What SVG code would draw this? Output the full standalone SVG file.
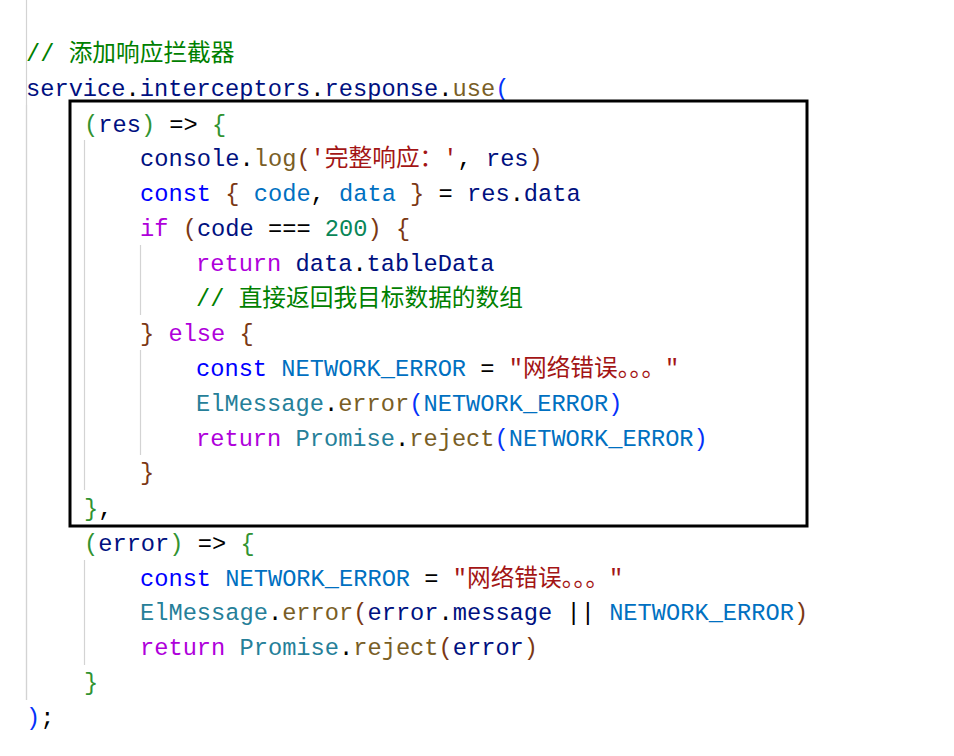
<svg xmlns="http://www.w3.org/2000/svg" width="954" height="756" viewBox="0 0 954 756">
<style>
text{font-family:"Liberation Mono","Noto Sans CJK SC",monospace;font-size:23.7px;white-space:pre}
.c{fill:#008000}.k{fill:#0000ff}.p{fill:#af00db}.v{fill:#001080}.f{fill:#795e26}.s{fill:#a31515}.n{fill:#098658}.u{fill:#0070c1}.t{fill:#267f99}.o{fill:#000}.b1{fill:#0431fa}.b2{fill:#319331}.b3{fill:#7b3814}
.g{stroke:#d3d3d3;stroke-width:1.2}
</style>
<rect width="954" height="756" fill="#fff"/>
<g id="guides">
<line class="g" x1="26.5" y1="0" x2="26.5" y2="700"/>
<line class="g" x1="26.5" y1="105" x2="26.5" y2="700"/>
<line class="g" x1="84.5" y1="140" x2="84.5" y2="490"/>
<line class="g" x1="84.5" y1="560" x2="84.5" y2="665"/>
<line class="g" x1="140.5" y1="245" x2="140.5" y2="315"/>
<line class="g" x1="140.5" y1="350" x2="140.5" y2="455"/>
</g>
<g id="code" xml:space="preserve">
<text x="26" y="61"><tspan class="c">// 添加响应拦截器</tspan></text>
<text x="26" y="96"><tspan class="v">service</tspan><tspan class="o">.</tspan><tspan class="v">interceptors</tspan><tspan class="o">.</tspan><tspan class="v">response</tspan><tspan class="o">.</tspan><tspan class="f">use</tspan><tspan class="b1">(</tspan></text>
<text x="84" y="132"><tspan class="b2">(</tspan><tspan class="v">res</tspan><tspan class="b2">)</tspan><tspan class="o"> =&gt; </tspan><tspan class="b2">{</tspan></text>
<text x="140" y="166"><tspan class="v">console</tspan><tspan class="o">.</tspan><tspan class="f">log</tspan><tspan class="b3">(</tspan><tspan class="s">'完整响应：'</tspan><tspan class="o">, </tspan><tspan class="v">res</tspan><tspan class="b3">)</tspan></text>
<text x="140" y="201"><tspan class="k">const</tspan><tspan class="o"> </tspan><tspan class="b3">{</tspan><tspan class="o"> </tspan><tspan class="u">code</tspan><tspan class="o">, </tspan><tspan class="u">data</tspan><tspan class="o"> </tspan><tspan class="b3">}</tspan><tspan class="o"> = </tspan><tspan class="v">res</tspan><tspan class="o">.</tspan><tspan class="v">data</tspan></text>
<text x="140" y="236"><tspan class="p">if</tspan><tspan class="o"> </tspan><tspan class="b3">(</tspan><tspan class="v">code</tspan><tspan class="o"> === </tspan><tspan class="n">200</tspan><tspan class="b3">)</tspan><tspan class="o"> </tspan><tspan class="b3">{</tspan></text>
<text x="196" y="271"><tspan class="p">return</tspan><tspan class="o"> </tspan><tspan class="v">data</tspan><tspan class="o">.</tspan><tspan class="v">tableData</tspan></text>
<text x="196" y="306"><tspan class="c">// 直接返回我目标数据的数组</tspan></text>
<text x="140" y="341"><tspan class="b3">}</tspan><tspan class="o"> </tspan><tspan class="p">else</tspan><tspan class="o"> </tspan><tspan class="b3">{</tspan></text>
<text x="196" y="376"><tspan class="k">const</tspan><tspan class="o"> </tspan><tspan class="u">NETWORK_ERROR</tspan><tspan class="o"> = </tspan><tspan class="s">"网络错误。。。"</tspan></text>
<text x="196" y="411"><tspan class="t">ElMessage</tspan><tspan class="o">.</tspan><tspan class="f">error</tspan><tspan class="b1">(</tspan><tspan class="u">NETWORK_ERROR</tspan><tspan class="b1">)</tspan></text>
<text x="196" y="446"><tspan class="p">return</tspan><tspan class="o"> </tspan><tspan class="t">Promise</tspan><tspan class="o">.</tspan><tspan class="f">reject</tspan><tspan class="b1">(</tspan><tspan class="u">NETWORK_ERROR</tspan><tspan class="b1">)</tspan></text>
<text x="140" y="480"><tspan class="b3">}</tspan></text>
<text x="84" y="516"><tspan class="b2">}</tspan><tspan class="o">,</tspan></text>
<text x="84" y="551"><tspan class="b2">(</tspan><tspan class="v">error</tspan><tspan class="b2">)</tspan><tspan class="o"> =&gt; </tspan><tspan class="b2">{</tspan></text>
<text x="140" y="586"><tspan class="k">const</tspan><tspan class="o"> </tspan><tspan class="u">NETWORK_ERROR</tspan><tspan class="o"> = </tspan><tspan class="s">"网络错误。。。"</tspan></text>
<text x="140" y="620"><tspan class="t">ElMessage</tspan><tspan class="o">.</tspan><tspan class="f">error</tspan><tspan class="b3">(</tspan><tspan class="v">error</tspan><tspan class="o">.</tspan><tspan class="v">message</tspan><tspan class="o"> || </tspan><tspan class="u">NETWORK_ERROR</tspan><tspan class="b3">)</tspan></text>
<text x="140" y="655"><tspan class="p">return</tspan><tspan class="o"> </tspan><tspan class="t">Promise</tspan><tspan class="o">.</tspan><tspan class="f">reject</tspan><tspan class="b3">(</tspan><tspan class="v">error</tspan><tspan class="b3">)</tspan></text>
<text x="84" y="690"><tspan class="b2">}</tspan></text>
<text x="26" y="725"><tspan class="b1">)</tspan><tspan class="o">;</tspan></text>
</g>
<rect id="box" x="70" y="101" width="737" height="425" fill="none" stroke="#000" stroke-width="3"/>
</svg>
